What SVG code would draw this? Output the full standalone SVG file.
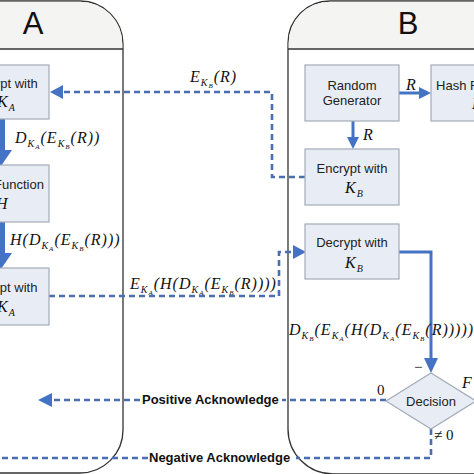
<svg xmlns="http://www.w3.org/2000/svg" width="474" height="474" viewBox="0 0 474 474">
<defs>
<style>
.panel{fill:#fff;stroke:#333;stroke-width:1.3}
.hdr{fill:#f4f4f2;stroke:none}
.box{fill:#e8edf5;stroke:#a3abb8;stroke-width:1.2}
.t{font-family:"Liberation Sans",Arial,sans-serif;font-size:13px;fill:#222;text-anchor:middle}
.big{font-family:"Liberation Sans",Arial,sans-serif;font-size:31px;fill:#111;text-anchor:middle}
.bold{font-family:"Liberation Sans",Arial,sans-serif;font-size:13px;font-weight:bold;fill:#111}
.m{font-family:"Liberation Serif","Times New Roman",serif;font-style:italic;font-size:16px;fill:#111;letter-spacing:1px}
.s{font-size:10px}
.ss{font-size:7px}
.n{font-family:"Liberation Serif","Times New Roman",serif;font-size:15px;fill:#111}
.dash{fill:none;stroke:#4a6eb0;stroke-width:2.6;stroke-dasharray:6 4}
.solid{fill:none;stroke:#4472c4;stroke-width:3}
.head{fill:#4472c4}
</style>
</defs>

<g id="panelA">
<path class="panel" d="M-10 1 H80 A43 43 0 0 1 123 44 V430 A43 43 0 0 1 80 473 H-10 Z"/>
<path class="hdr" d="M-10 1.7 H80 A42.3 42.3 0 0 1 122.3 44 V48.5 H-10 Z"/>
<line x1="-10" y1="49" x2="123" y2="49" stroke="#333" stroke-width="1.3"/>
<text class="big" x="33" y="34">A</text>
</g>

<g id="panelB">
<path class="panel" d="M490 1 H330 A42 42 0 0 0 288 43 V429 A45 45 0 0 0 333 474 H490 Z"/>
<path class="hdr" d="M490 1.7 H330 A41.3 41.3 0 0 0 288.7 43 V48.5 H490 Z"/>
<line x1="288" y1="49" x2="490" y2="49" stroke="#333" stroke-width="1.3"/>
<text class="big" x="408" y="34">B</text>
</g>

<g id="connectors">
<rect x="-4" y="119" width="9" height="34" class="head"/>
<path class="head" d="M-10 150 L12 150 L1 166 Z"/>
<rect x="-4" y="222" width="9" height="34" class="head"/>
<path class="head" d="M-10 253 L12 253 L1 269 Z"/>
<path class="dash" d="M305 177 H272 V92 H62"/>
<path class="head" d="M50 92 L63 85 L63 99 Z"/>
<path class="dash" d="M49 296 H279 V252 H294"/>
<path class="head" d="M306 252 L293 245 L293 259 Z"/>
<path class="solid" d="M399 93 H420"/>
<path class="head" d="M431 93 L419 87 L419 99 Z"/>
<path class="solid" d="M353 121 V138"/>
<path class="head" d="M353 149 L347 137 L359 137 Z"/>
<path class="solid" d="M399 252 H431 V360"/>
<path class="head" d="M431 373 L424 358 L438 358 Z"/>
<path class="dash" d="M386 400 H282"/>
<path class="dash" d="M140 400 H50"/>
<path class="head" d="M38 400 L52 393 L52 407 Z"/>
<path class="dash" d="M431 429 V458 H296"/>
<path class="dash" d="M148 458 H-5"/>
</g>

<g id="nodeA1">
<rect class="box" x="-45" y="65" width="94" height="54"/>
<text class="t" x="2" y="88">Decrypt with</text>
<text class="m" x="-3" y="107">K<tspan class="s" dy="4">A</tspan></text>
</g>
<g id="nodeA2">
<rect class="box" x="-45" y="165" width="94" height="57"/>
<text class="t" x="2" y="189">Hash Function</text>
<text class="m" x="-4" y="209">H</text>
</g>
<g id="nodeA3">
<rect class="box" x="-45" y="268" width="94" height="57"/>
<text class="t" x="2" y="292">Encrypt with</text>
<text class="m" x="-3" y="312">K<tspan class="s" dy="4">A</tspan></text>
</g>

<g id="nodeRandom">
<rect class="box" x="305" y="65" width="94" height="56"/>
<text class="t" x="352" y="90">Random</text>
<text class="t" x="352" y="105">Generator</text>
</g>
<g id="nodeHashB">
<rect class="box" x="431" y="65" width="94" height="56"/>
<text class="t" x="478" y="90">Hash Function</text>
<text class="m" x="472" y="109">H</text>
</g>
<g id="nodeEncB">
<rect class="box" x="305" y="149" width="94" height="56"/>
<text class="t" x="352" y="173">Encrypt with</text>
<text class="m" x="345" y="193">K<tspan class="s" dy="4">B</tspan></text>
</g>
<g id="nodeDecB">
<rect class="box" x="305" y="224" width="94" height="55"/>
<text class="t" x="352" y="247">Decrypt with</text>
<text class="m" x="345" y="268">K<tspan class="s" dy="4">B</tspan></text>
</g>
<g id="nodeDecision">
<path class="box" d="M386 401 L431 373 L476 401 L431 429 Z"/>
<text class="t" x="431" y="406">Decision</text>
</g>

<g id="labels">
<text class="m" x="190" y="82">E<tspan class="s" dy="4">K</tspan><tspan class="ss" dy="2">B</tspan><tspan dy="-6">(R)</tspan></text>
<text class="m" x="15" y="143">D<tspan class="s" dy="4">K</tspan><tspan class="ss" dy="2">A</tspan><tspan dy="-6">(E</tspan><tspan class="s" dy="4">K</tspan><tspan class="ss" dy="2">B</tspan><tspan dy="-6">(R))</tspan></text>
<text class="m" x="10" y="245">H(D<tspan class="s" dy="4">K</tspan><tspan class="ss" dy="2">A</tspan><tspan dy="-6">(E</tspan><tspan class="s" dy="4">K</tspan><tspan class="ss" dy="2">B</tspan><tspan dy="-6">(R)))</tspan></text>
<text class="m" x="130" y="289">E<tspan class="s" dy="4">K</tspan><tspan class="ss" dy="2">A</tspan><tspan dy="-6">(H(D</tspan><tspan class="s" dy="4">K</tspan><tspan class="ss" dy="2">A</tspan><tspan dy="-6">(E</tspan><tspan class="s" dy="4">K</tspan><tspan class="ss" dy="2">B</tspan><tspan dy="-6">(R))))</tspan></text>
<text class="m" x="289" y="335">D<tspan class="s" dy="4">K</tspan><tspan class="ss" dy="2">B</tspan><tspan dy="-6">(E</tspan><tspan class="s" dy="4">K</tspan><tspan class="ss" dy="2">A</tspan><tspan dy="-6">(H(D</tspan><tspan class="s" dy="4">K</tspan><tspan class="ss" dy="2">A</tspan><tspan dy="-6">(E</tspan><tspan class="s" dy="4">K</tspan><tspan class="ss" dy="2">B</tspan><tspan dy="-6">(R)))))</tspan></text>
<text class="m" x="406" y="90">R</text>
<text class="m" x="363" y="140">R</text>
<text class="n" x="414" y="372">−</text>
<text class="m" x="462" y="388">F</text>
<text class="n" x="377" y="395">0</text>
<text class="n" x="434" y="440">≠ 0</text>
<text class="bold" x="142" y="404">Positive Acknowledge</text>
<text class="bold" x="149" y="462">Negative Acknowledge</text>
</g>
</svg>
